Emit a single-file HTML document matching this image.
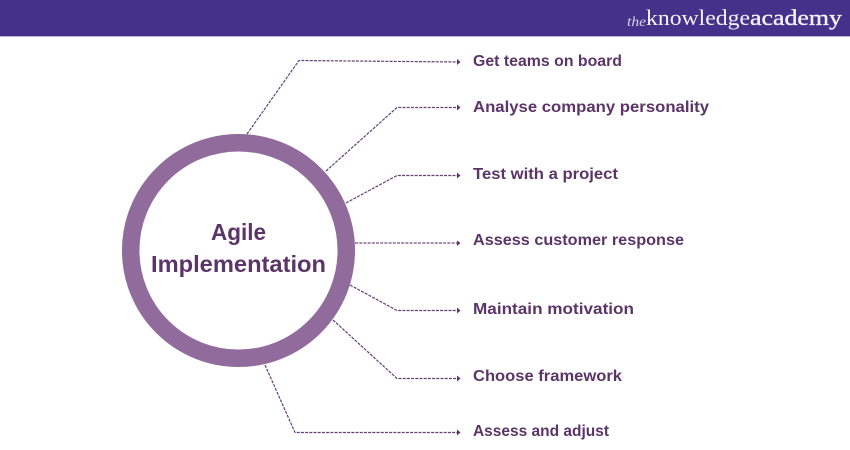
<!DOCTYPE html>
<html lang="en">
<head>
<meta charset="utf-8">
<title>Agile Implementation</title>
<style>
html,body{margin:0;padding:0;background:#fff;width:850px;height:450px;overflow:hidden}
svg{display:block}
.l{font-family:"Liberation Sans",sans-serif;font-weight:700;font-size:15.5px;fill:#5b3468}
.c{font-family:"Liberation Sans",sans-serif;font-weight:700;font-size:23.5px;fill:#5b3468}
.d{fill:none;stroke:#643f74;stroke-width:1.2;stroke-dasharray:3 1.2}
.a{fill:#5b3468}
</style>
</head>
<body>
<svg width="850" height="450" viewBox="0 0 850 450" xmlns="http://www.w3.org/2000/svg">
<rect width="850" height="450" fill="#fff"/>
<rect width="850" height="36" fill="#46318a"/>
<rect y="36" width="850" height="1" fill="#b9b2d3"/>
<text x="627" y="26" font-family="'Liberation Serif',serif" font-style="italic" font-size="14" fill="#d8d3e8" textLength="19" lengthAdjust="spacingAndGlyphs">the</text>
<text x="646" y="25" font-family="'Liberation Serif',serif" font-size="22" fill="#f4f2f9" textLength="104" lengthAdjust="spacingAndGlyphs">knowledge</text>
<text x="750" y="25" font-family="'Liberation Serif',serif" font-size="22" stroke="#f4f2f9" stroke-width="0.35" fill="#f4f2f9" textLength="92" lengthAdjust="spacingAndGlyphs">academy</text>

<circle cx="238.500" cy="250.500" r="107.800" fill="#fff" stroke="#916b9c" stroke-width="17.500"/>
<text class="c" x="211" y="240" textLength="55" lengthAdjust="spacingAndGlyphs">Agile</text>
<text class="c" x="151" y="272" textLength="175" lengthAdjust="spacingAndGlyphs">Implementation</text>

<path class="d" d="M247 134L299 60.500L459 62"/>
<path class="d" d="M326 171L397 107.500H459"/>
<path class="d" d="M346 203L397 175.500H459"/>
<path class="d" d="M355 243H459" style="stroke:#916b9c;stroke-width:1.4"/>
<path class="d" d="M350 285L397 310.500H459"/>
<path class="d" d="M333 320L397 378.500H459"/>
<path class="d" d="M265 365L295 432.500H459"/>

<path class="a" d="M457 59L460.500 62L457 65Z"/>
<path class="a" d="M457 104.500L460.500 107.500L457 110.500Z"/>
<path class="a" d="M457 172.500L460.500 175.500L457 178.500Z"/>
<path class="a" d="M457 240.500L460.500 243L457 246Z"/>
<path class="a" d="M457 307.500L460.500 310.500L457 313.500Z"/>
<path class="a" d="M457 375.500L460.500 378.500L457 381.500Z"/>
<path class="a" d="M457 429.500L460.500 432.500L457 435.500Z"/>

<text class="l" x="473" y="66" textLength="149" lengthAdjust="spacingAndGlyphs">Get teams on board</text>
<text class="l" x="473" y="112" textLength="236" lengthAdjust="spacingAndGlyphs">Analyse company personality</text>
<text class="l" x="473" y="179" textLength="145" lengthAdjust="spacingAndGlyphs">Test with a project</text>
<text class="l" x="473" y="245" textLength="211" lengthAdjust="spacingAndGlyphs">Assess customer response</text>
<text class="l" x="473" y="314" textLength="161" lengthAdjust="spacingAndGlyphs">Maintain motivation</text>
<text class="l" x="473" y="381" textLength="149" lengthAdjust="spacingAndGlyphs">Choose framework</text>
<text class="l" x="473" y="436" textLength="136" lengthAdjust="spacingAndGlyphs">Assess and adjust</text>
</svg>
</body>
</html>
